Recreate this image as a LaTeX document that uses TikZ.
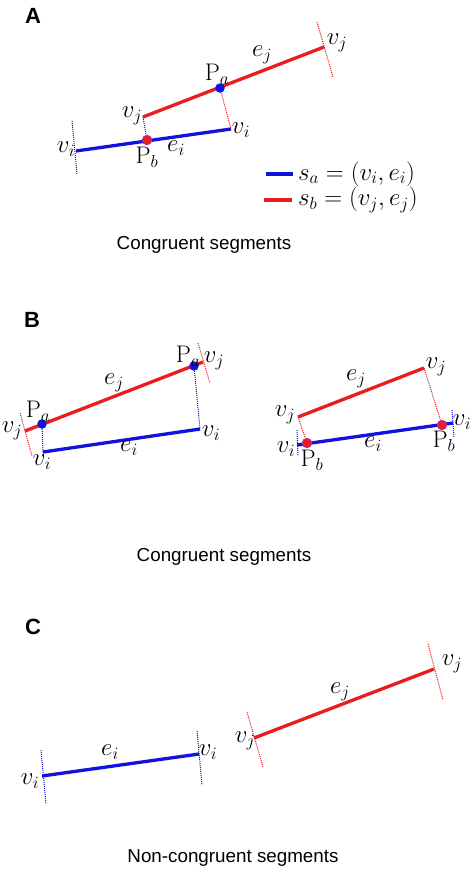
\documentclass[tikz,border=0pt]{standalone}
\usepackage{fontspec}
\newfontfamily\arial{Liberation Sans}
\definecolor{mred}{RGB}{235,28,32}
\definecolor{mblue}{RGB}{18,18,222}
\definecolor{mpurp}{RGB}{170,50,170}
\tikzset{
  seg/.style={line width=3.3pt},
  redseg/.style={seg,mred},
  blueseg/.style={seg,mblue},
  tick/.style={line width=1pt,dash pattern=on 1pt off 1pt},
  redtick/.style={tick,mred},
  bluetick/.style={tick,mblue},
  lab/.style={inner sep=0pt,font=\fontsize{24}{28}\selectfont},
  ttl/.style={inner sep=0pt,font=\arial\fontsize{18.8}{22}\selectfont},
  panel/.style={inner sep=0pt,font=\arial\bfseries\fontsize{22}{26}\selectfont},
  bdot/.style={circle,fill=mblue,inner sep=0pt,minimum size=9.5pt},
  rdot/.style={circle,fill=mred,draw=mpurp,line width=0.8pt,inner sep=0pt,minimum size=9.5pt}
}
\begin{document}
\begin{tikzpicture}[x=1pt,y=-1pt]
\useasboundingbox[fill=white] (0,0) rectangle (474,873);

%%%%%%%%%%%%%%%% Panel A
\node[panel] (pA) at (33,16) {A};
\coordinate (Abi1) at (76,151);
\coordinate (Abi2) at (231,129);
\coordinate (Arj1) at (143,117);
\coordinate (Arj2) at (324,47);
\coordinate (Atb1) at (72,121);
\coordinate (Atb2) at (77,174);
\coordinate (Atr1) at (317,22);
\coordinate (Atr2) at (333,77);
\draw[bluetick] (Atb1) -- (Atb2);
\draw[redtick] (Atr1) -- (Atr2);
\draw[blueseg] (Abi1) -- (Abi2);
\draw[redseg] (Arj1) -- (Arj2);
\node[bdot] (APa) at (220,88) {};
\node[rdot] (APb) at (147,140) {};
\draw[redtick] (APa) -- (Abi2);
\draw[bluetick] (Arj1) -- (APb);
\node[lab] (Avj1) at (132,116) {$v_j$};
\node[lab] (Avi2) at (241,130) {$v_i$};
\node[lab] (Avi1) at (66,149) {$v_i$};
\node[lab] (Avj2) at (337,43) {$v_j$};
\node[lab] (APalab) at (217,74) {$\mathrm{P}_a$};
\node[lab] (Aej) at (262,55) {$e_j$};
\node[lab] (APblab) at (147,157) {$\mathrm{P}_b$};
\node[lab] (Aei) at (176,148) {$e_i$};
% legend
\coordinate (L1a) at (266,174);
\coordinate (L1b) at (293,174);
\coordinate (L2a) at (264,200);
\coordinate (L2b) at (292,200);
\draw[blueseg] (L1a) -- (L1b);
\draw[redseg] (L2a) -- (L2b);
\node[lab,anchor=west] (Lt1) at (298,174) {$s_a=(v_i,e_i)$};
\node[lab,anchor=west] (Lt2) at (298,200) {$s_b=(v_j,e_j)$};
\node[ttl] (tA) at (204,245) {Congruent segments};

%%%%%%%%%%%%%%%% Panel B
\node[panel] (pB) at (32,320) {B};
% left
\coordinate (Brj1) at (25,431);
\coordinate (Brj2) at (203,362);
\coordinate (Bbi1) at (43,452);
\coordinate (Bbi2) at (200,429);
\coordinate (Bt1a) at (20,413);
\coordinate (Bt1b) at (32,456);
\coordinate (Bt2a) at (198,343);
\coordinate (Bt2b) at (210,383);
\draw[redtick] (Bt1a) -- (Bt1b);
\draw[redtick] (Bt2a) -- (Bt2b);
\draw[redseg] (Brj1) -- (Brj2);
\draw[blueseg] (Bbi1) -- (Bbi2);
\node[bdot] (BPa1) at (42,424) {};
\node[bdot] (BPa2) at (194,366) {};
\draw[bluetick] (BPa1) -- (Bbi1);
\draw[bluetick] (BPa2) -- (Bbi2);
\node[lab] (Bvj1) at (12,431) {$v_j$};
\node[lab] (BPal1) at (38,411) {$\mathrm{P}_a$};
\node[lab] (Bvi1) at (42,462) {$v_i$};
\node[lab] (Bej) at (114,383) {$e_j$};
\node[lab] (Bei) at (129,448) {$e_i$};
\node[lab] (BPal2) at (188,356) {$\mathrm{P}_a$};
\node[lab] (Bvj2) at (214,361) {$v_j$};
\node[lab] (Bvi2) at (211,433) {$v_i$};
% right
\coordinate (Crj1) at (298,417);
\coordinate (Crj2) at (424,368);
\coordinate (Cbi1) at (297,445);
\coordinate (Cbi2) at (453,423);
\coordinate (Ct1a) at (297,430);
\coordinate (Ct1b) at (298,456);
\coordinate (Ct2a) at (452,410);
\coordinate (Ct2b) at (454,437);
\draw[bluetick] (Ct1a) -- (Ct1b);
\draw[bluetick] (Ct2a) -- (Ct2b);
\draw[redseg] (Crj1) -- (Crj2);
\draw[blueseg] (Cbi1) -- (Cbi2);
\node[rdot] (CPb1) at (307,443) {};
\node[rdot] (CPb2) at (442,425) {};
\draw[redtick] (Crj1) -- (CPb1);
\draw[redtick] (Crj2) -- (CPb2);
\node[lab] (Cvj1) at (285,415) {$v_j$};
\node[lab] (Cvi1) at (286,449) {$v_i$};
\node[lab] (CPbl1) at (312,460) {$\mathrm{P}_b$};
\node[lab] (Cej) at (356,379) {$e_j$};
\node[lab] (Cei) at (373,444) {$e_i$};
\node[lab] (Cvj2) at (436,367) {$v_j$};
\node[lab] (CPbl2) at (444,441) {$\mathrm{P}_b$};
\node[lab] (Cvi2) at (462,422) {$v_i$};
\node[ttl] (tB) at (224,557) {Congruent segments};

%%%%%%%%%%%%%%%% Panel C
\node[panel] (pC) at (33,627) {C};
\coordinate (Dbi1) at (42,776);
\coordinate (Dbi2) at (199,754);
\coordinate (Drj1) at (254,738);
\coordinate (Drj2) at (434,669);
\coordinate (Dt1a) at (41,750);
\coordinate (Dt1b) at (46,804);
\coordinate (Dt2a) at (197,731);
\coordinate (Dt2b) at (202,785);
\coordinate (Dt3a) at (247,712);
\coordinate (Dt3b) at (263,767);
\coordinate (Dt4a) at (428,644);
\coordinate (Dt4b) at (443,700);
\draw[bluetick] (Dt1a) -- (Dt1b);
\draw[bluetick] (Dt2a) -- (Dt2b);
\draw[redtick] (Dt3a) -- (Dt3b);
\draw[redtick] (Dt4a) -- (Dt4b);
\draw[blueseg] (Dbi1) -- (Dbi2);
\draw[redseg] (Drj1) -- (Drj2);
\node[lab] (Dvi1) at (30,781) {$v_i$};
\node[lab] (Dei) at (110,752) {$e_i$};
\node[lab] (Dvi2) at (208,752) {$v_i$};
\node[lab] (Dvj1) at (245,741) {$v_j$};
\node[lab] (Dej) at (340,692) {$e_j$};
\node[lab] (Dvj2) at (452,664) {$v_j$};
\node[ttl] (tC) at (233,858) {Non-congruent segments};
\end{tikzpicture}
\end{document}
